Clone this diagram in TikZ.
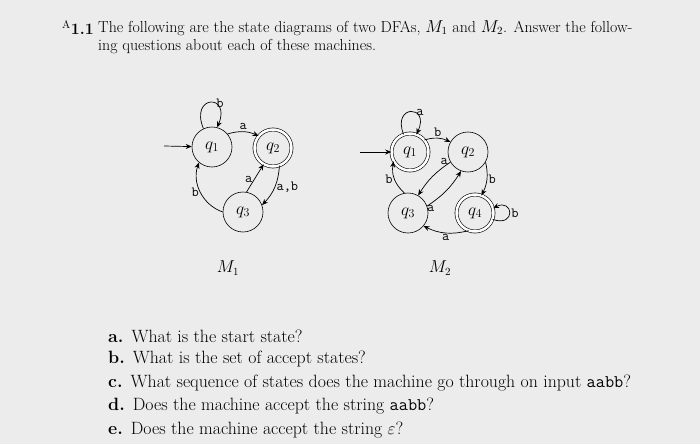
\documentclass[tikz,border=0pt]{standalone}
\usetikzlibrary{arrows.meta}
\begin{document}
\begin{tikzpicture}[x=1pt,y=-1pt,
  st/.style={circle,draw,minimum size=40pt,inner sep=0pt,line width=0.6pt,font=\fontsize{17}{17}\selectfont},
  acc/.style={st,double,double distance=2.5pt,minimum size=37pt},
  ed/.style={-{Stealth[length=6pt,width=5pt]},line width=0.7pt},
  lb/.style={font=\ttfamily\fontsize{14}{14}\selectfont,inner sep=1.5pt},
  txt/.style={anchor=west,inner sep=0pt,font=\fontsize{15.9}{15.9}\selectfont},
  q/.style={anchor=west,inner sep=0pt,font=\fontsize{17.8}{17.8}\selectfont}]
\fill[gray!15] (0,0) rectangle (700,444);
\useasboundingbox (0,0) rectangle (700,444);
\node[txt,anchor=east] (t0) at (94,28) {$^{\mathrm A}$\textbf{1.1}};
\node[txt] (t1) at (98,28) {The following are the state diagrams of two DFAs, $M_1$ and $M_2$. Answer the follow-};
\node[txt] (t2) at (98,47) {ing questions about each of these machines.};
% M1
\node[st] (a1) at (212,147) {$q_1$};
\node[acc] (a2) at (273,148) {$q_2$};
\node[st] (a3) at (243,212) {$q_3$};
\coordinate (s1) at (164,146);
\draw[ed] (s1) -- (a1);
\draw[ed] (a1.115) .. controls +(-14,-34) and +(14,-34) .. node[lb,right,pos=0.6]{b} (a1.75);
\draw[ed] (a1.40) to[bend left=20] node[lb,above]{a} (a2.140);
\draw[ed] (a2.-70) to[bend left=20] node[lb,right]{a,b} (a3.20);
\draw[ed] (a3.80) -- node[lb,left,pos=0.45]{a} (a2.-120);
\draw[ed] (a3.180) to[bend left=45] node[lb,left]{b} (a1.-130);
\node[font=\fontsize{16}{16}\selectfont] (m1) at (228,268) {$M_1$};
% M2
\node[acc] (b1) at (410,152) {$q_1$};
\node[st] (b2) at (468,152) {$q_2$};
\node[st] (b3) at (408,213) {$q_3$};
\node[acc] (b4) at (475,213) {$q_4$};
\coordinate (s2) at (360,152);
\draw[ed] (s2) -- (b1);
\draw[ed] (b1.110) .. controls +(-12,-30) and +(14,-30) .. node[lb,right,pos=0.6]{a} (b1.70);
\draw[ed] (b1.40) to[bend left=20] node[lb,above]{b} (b2.150);
\draw[ed] (b2.-150) to[bend right=12] node[lb,above,pos=0.15]{a} (b3.60);
\draw[ed] (b3.20) to[bend right=12] node[lb,below,pos=0.08]{a} (b2.-110);
\draw[ed] (b3.100) to[bend left=30] node[lb,left]{b} (b1.-150);
\draw[ed] (b2.-30) to[bend left=20] node[lb,right]{b} (b4.70);
\draw[ed] (b4.-110) to[bend left=20] node[lb,below]{a} (b3.-40);
\draw[ed] (b4.-20) .. controls +(24,8) and +(20,-10) .. node[lb,right,pos=0.5]{b} (b4.15);
\node[font=\fontsize{16}{16}\selectfont] (m2) at (440,268) {$M_2$};
% questions
\node[q] (qa) at (108,336) {\textbf{a.}\hspace{8pt}What is the start state?};
\node[q] (qb) at (108,359) {\textbf{b.}\hspace{8pt}What is the set of accept states?};
\node[q] (qc) at (108,383) {\textbf{c.}\hspace{8pt}What sequence of states does the machine go through on input \texttt{aabb}?};
\node[q] (qd) at (108,406) {\textbf{d.}\hspace{8pt}Does the machine accept the string \texttt{aabb}?};
\node[q] (qe) at (108,430) {\textbf{e.}\hspace{8pt}Does the machine accept the string $\varepsilon$?};
\end{tikzpicture}
\end{document}
